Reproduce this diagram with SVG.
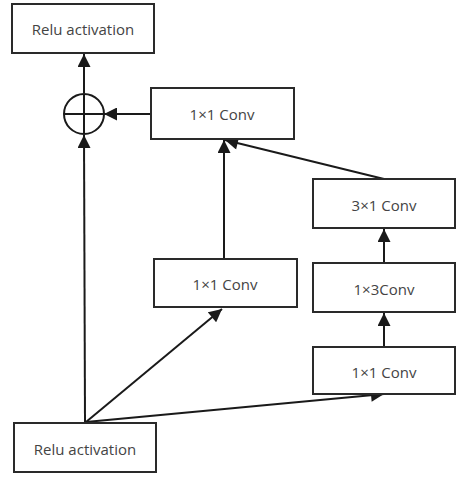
<svg xmlns="http://www.w3.org/2000/svg" width="474" height="479" viewBox="0 0 474 479">
<style>
.box{fill:#fff;stroke:#2a2a2a;stroke-width:2}
.lbl{font-family:"Open Sans","Noto Sans",sans-serif;font-size:15px;fill:#444;text-anchor:middle;dominant-baseline:central}
.edge{stroke:#1a1a1a;stroke-width:2;fill:none;marker-end:url(#ah)}
</style>
<defs>
<marker id="ah" viewBox="0 0 10 10" refX="10" refY="5" markerWidth="7" markerHeight="6.5" markerUnits="strokeWidth" orient="auto">
<path d="M0,0 L10,5 L0,10 z" fill="#1a1a1a"/>
</marker>
</defs>
<rect width="474" height="479" fill="#fff"/>
<g id="connectors">
<line class="edge" x1="84" y1="93" x2="84" y2="54"/>
<line class="edge" x1="151" y1="114" x2="104" y2="114"/>
<line class="edge" x1="85" y1="422" x2="84" y2="135"/>
<line class="edge" x1="86" y1="422" x2="222" y2="309"/>
<line class="edge" x1="86" y1="422" x2="384" y2="394"/>
<line class="edge" x1="224" y1="258" x2="224" y2="140"/>
<line class="edge" x1="384" y1="179" x2="225" y2="140"/>
<line class="edge" x1="384" y1="262" x2="384" y2="229"/>
<line class="edge" x1="384" y1="346" x2="384" y2="313"/>
</g>
<g id="relu-top"><rect class="box" x="12" y="4" width="142" height="49"/><text class="lbl" x="83" y="29">Relu activation</text></g>
<g id="add"><circle cx="84" cy="114" r="20" fill="#fff" stroke="#1a1a1a" stroke-width="2"/><line x1="64" y1="114" x2="104" y2="114" stroke="#1a1a1a" stroke-width="2"/><line x1="84" y1="94" x2="84" y2="134" stroke="#1a1a1a" stroke-width="2"/></g>
<g id="conv-top"><rect class="box" x="151" y="88" width="143" height="51"/><text class="lbl" x="222" y="114">1×1 Conv</text></g>
<g id="conv-mid"><rect class="box" x="154" y="259" width="143" height="48"/><text class="lbl" x="225" y="284">1×1 Conv</text></g>
<g id="conv-3x1"><rect class="box" x="313" y="179" width="142" height="49"/><text class="lbl" x="384" y="205">3×1 Conv</text></g>
<g id="conv-1x3"><rect class="box" x="313" y="263" width="142" height="49"/><text class="lbl" x="384" y="289">1×3Conv</text></g>
<g id="conv-right"><rect class="box" x="313" y="347" width="142" height="47"/><text class="lbl" x="384" y="372">1×1 Conv</text></g>
<g id="relu-bottom"><rect class="box" x="14" y="423" width="142" height="49"/><text class="lbl" x="85" y="449">Relu activation</text></g>
</svg>
